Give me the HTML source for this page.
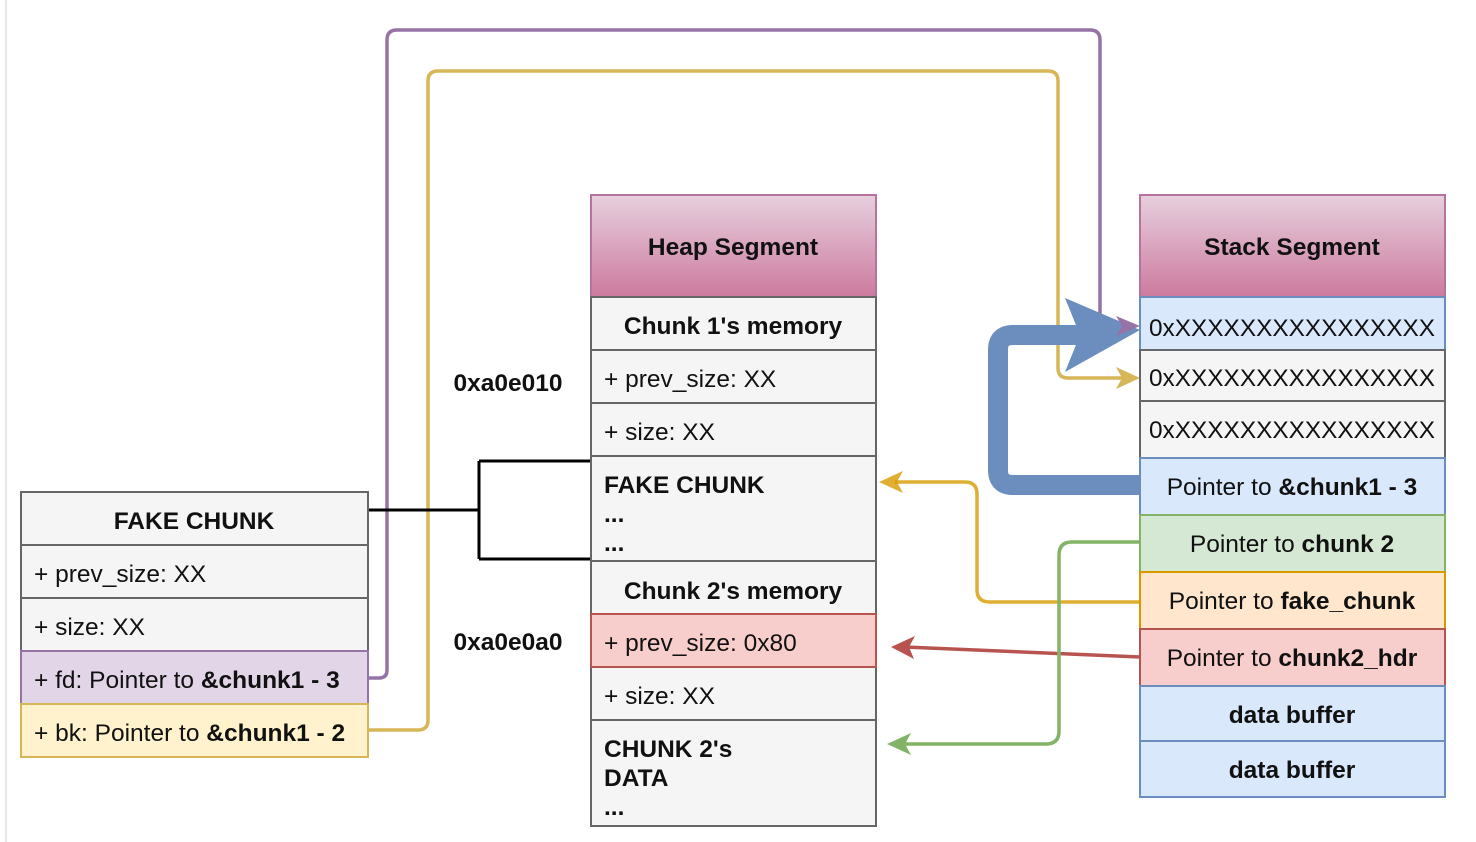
<!DOCTYPE html>
<html><head><meta charset="utf-8"><style>
html,body{margin:0;padding:0;background:#fff;}
svg{display:block;font-family:"Liberation Sans",sans-serif;}
</style></head><body>
<svg width="1476" height="842" viewBox="0 0 1476 842" xmlns="http://www.w3.org/2000/svg">
<defs>
<linearGradient id="g" x1="0" y1="0" x2="0" y2="1">
<stop offset="0" stop-color="#e6d0de"/><stop offset="1" stop-color="#cd7a9e"/>
</linearGradient>
</defs>
<line x1="6" y1="0" x2="6" y2="842" stroke="#e6e6e6" stroke-width="2"/>

<path d="M368,678 H379 Q387,678 387,670 V40 Q387,30 397,30 H1090 Q1100,30 1100,40 V318 Q1100,326 1108,326 H1130" fill="none" stroke="#9673a6" stroke-width="3.5"/>
<path d="M368,730 H418 Q428,730 428,720 V81 Q428,71 438,71 H1048 Q1058,71 1058,81 V368 Q1058,378 1068,378 H1130" fill="none" stroke="#d6b656" stroke-width="3.5"/>
<path d="M1140,485 H1013 Q998,485 998,470 V350 Q998,335 1013,335 H1080" fill="none" stroke="#6c8ebf" stroke-width="20"/>
<polygon points="1140,330 1065,298 1080,335 1065,372" fill="#6c8ebf"/>
<polygon points="1140,326 1116,316 1122,326 1116,336" fill="#9673a6"/>
<polygon points="1140,378 1116,367 1122,378 1116,389" fill="#d6b656"/>

<path d="M368,510 H479 M479,461 V559 M479,461 H591 M479,559 H591" fill="none" stroke="#000" stroke-width="3"/>

<path d="M1140,602 H990 Q977,602 977,590 V494 Q977,482 965,482 H895" fill="none" stroke="#d79b00" stroke-opacity="0.8" stroke-width="3.5"/>
<polygon points="879,482 903,471 897,482 903,493" fill="#d79b00" fill-opacity="0.8"/>
<path d="M1140,657 L905,647" fill="none" stroke="#b85450" stroke-width="3.5"/>
<polygon points="891,647 915,636 909,647 914,659" fill="#b85450"/>
<path d="M1140,542 H1072 Q1059,542 1059,555 V731 Q1059,744 1046,744 H900" fill="none" stroke="#82b366" stroke-width="3.5"/>
<polygon points="887,744 911,733 905,744 911,755" fill="#82b366"/>

<g stroke="#666" stroke-width="2">
<rect x="21" y="492" width="347" height="53" fill="#f5f5f5"/>
<rect x="21" y="545" width="347" height="53" fill="#f5f5f5"/>
<rect x="21" y="598" width="347" height="53" fill="#f5f5f5"/>
</g>
<rect x="21" y="651" width="347" height="53" fill="#e1d5e7" stroke="#9673a6" stroke-width="2"/>
<rect x="21" y="704" width="347" height="53" fill="#fff2cc" stroke="#d6b656" stroke-width="2"/>
<g font-size="24.5" fill="#111">
<text x="194" y="529" text-anchor="middle" font-weight="bold">FAKE CHUNK</text>
<text x="34" y="582">+ prev_size: XX</text>
<text x="34" y="635">+ size: XX</text>
<text x="34" y="688">+ fd: Pointer to <tspan font-weight="bold">&amp;chunk1 - 3</tspan></text>
<text x="34" y="741">+ bk: Pointer to <tspan font-weight="bold">&amp;chunk1 - 2</tspan></text>
<text x="508" y="391" text-anchor="middle" font-weight="bold">0xa0e010</text>
<text x="508" y="650" text-anchor="middle" font-weight="bold">0xa0e0a0</text>
</g>

<rect x="591" y="195" width="285" height="102" fill="url(#g)" stroke="#b5739d" stroke-width="2"/>
<g stroke="#666" stroke-width="2" fill="#f5f5f5">
<rect x="591" y="297" width="285" height="53"/>
<rect x="591" y="350" width="285" height="53"/>
<rect x="591" y="403" width="285" height="53"/>
<rect x="591" y="456" width="285" height="105"/>
<rect x="591" y="561" width="285" height="53"/>
<rect x="591" y="667" width="285" height="53"/>
<rect x="591" y="720" width="285" height="106"/>
</g>
<rect x="591" y="614" width="285" height="53" fill="#f8cecc" stroke="#b85450" stroke-width="2"/>
<g font-size="24.5" fill="#111">
<text x="733" y="255" text-anchor="middle" font-weight="bold">Heap Segment</text>
<text x="733" y="334" text-anchor="middle" font-weight="bold">Chunk 1's memory</text>
<text x="604" y="387">+ prev_size: XX</text>
<text x="604" y="440">+ size: XX</text>
<text x="604" y="493" font-weight="bold">FAKE CHUNK</text>
<text x="604" y="522" font-weight="bold">...</text>
<text x="604" y="551" font-weight="bold">...</text>
<text x="733" y="599" text-anchor="middle" font-weight="bold">Chunk 2's memory</text>
<text x="604" y="651">+ prev_size: 0x80</text>
<text x="604" y="704">+ size: XX</text>
<text x="604" y="757" font-weight="bold">CHUNK 2's</text>
<text x="604" y="786" font-weight="bold">DATA</text>
<text x="604" y="815" font-weight="bold">...</text>
</g>

<rect x="1140" y="195" width="305" height="102" fill="url(#g)" stroke="#b5739d" stroke-width="2"/>
<rect x="1140" y="297" width="305" height="53" fill="#dae8fc" stroke="#6c8ebf" stroke-width="2"/>
<rect x="1140" y="350" width="305" height="51" fill="#f5f5f5" stroke="#666" stroke-width="2"/>
<rect x="1140" y="401" width="305" height="57" fill="#f5f5f5" stroke="#666" stroke-width="2"/>
<rect x="1140" y="458" width="305" height="57" fill="#dae8fc" stroke="#6c8ebf" stroke-width="2"/>
<rect x="1140" y="515" width="305" height="57" fill="#d5e8d4" stroke="#82b366" stroke-width="2"/>
<rect x="1140" y="572" width="305" height="57" fill="#ffe6cc" stroke="#d79b00" stroke-width="2"/>
<rect x="1140" y="629" width="305" height="57" fill="#f8cecc" stroke="#b85450" stroke-width="2"/>
<rect x="1140" y="686" width="305" height="55" fill="#dae8fc" stroke="#6c8ebf" stroke-width="2"/>
<rect x="1140" y="741" width="305" height="56" fill="#dae8fc" stroke="#6c8ebf" stroke-width="2"/>
<g font-size="24.5" fill="#111" text-anchor="middle">
<text x="1292" y="255" font-weight="bold">Stack Segment</text>
<text x="1292" y="336" textLength="286" lengthAdjust="spacingAndGlyphs">0xXXXXXXXXXXXXXXXX</text>
<text x="1292" y="386" textLength="286" lengthAdjust="spacingAndGlyphs">0xXXXXXXXXXXXXXXXX</text>
<text x="1292" y="438" textLength="286" lengthAdjust="spacingAndGlyphs">0xXXXXXXXXXXXXXXXX</text>
<text x="1292" y="495">Pointer to <tspan font-weight="bold">&amp;chunk1 - 3</tspan></text>
<text x="1292" y="552">Pointer to <tspan font-weight="bold">chunk 2</tspan></text>
<text x="1292" y="609">Pointer to <tspan font-weight="bold">fake_chunk</tspan></text>
<text x="1292" y="666">Pointer to <tspan font-weight="bold">chunk2_hdr</tspan></text>
<text x="1292" y="723" font-weight="bold">data buffer</text>
<text x="1292" y="778" font-weight="bold">data buffer</text>
</g>
</svg>
</body></html>
